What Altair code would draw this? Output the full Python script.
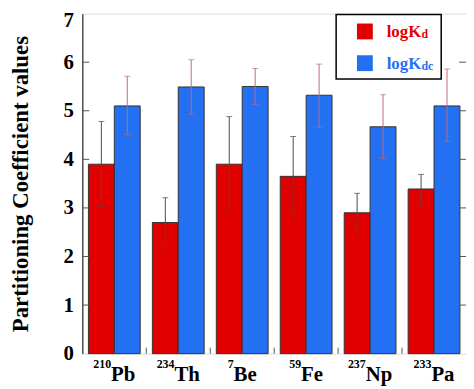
import altair as alt
import pandas as pd

mass = ["210", "234", "7", "59", "237", "233"]
elements = ["Pb", "Th", "Be", "Fe", "Np", "Pa"]
isotopes = [m + e for m, e in zip(mass, elements)]
series = ["logKd", "logKdc"]
kd = [3.90, 2.70, 3.90, 3.65, 2.90, 3.39]
kd_lo = [3.03, 2.18, 2.92, 2.84, 2.51, 3.06]
kd_hi = [4.78, 3.21, 4.88, 4.47, 3.30, 3.69]
kdc = [5.10, 5.49, 5.50, 5.32, 4.67, 5.10]
kdc_lo = [4.51, 4.93, 5.13, 4.66, 4.02, 4.37]
kdc_hi = [5.71, 6.05, 5.87, 5.96, 5.33, 5.86]
yticks = [0, 1, 2, 3, 4, 5, 6, 7]

rows = []
for i, iso in enumerate(isotopes):
    rows.append({"iso": iso, "series": series[0], "v": kd[i], "lo": kd_lo[i], "hi": kd_hi[i]})
    rows.append({"iso": iso, "series": series[1], "v": kdc[i], "lo": kdc_lo[i], "hi": kdc_hi[i]})
df = pd.DataFrame(rows)

W, H = 387, 343
FONT = "Liberation Serif"
EL_SIZE, SUP_SIZE = 21, 12
# approximate Times Bold advance widths (per em) for centring the composed label
ADV = {"P": 0.611, "b": 0.556, "T": 0.667, "h": 0.556, "B": 0.667, "e": 0.444,
       "F": 0.611, "N": 0.722, "p": 0.556, "a": 0.5}
lab = pd.DataFrame({
    "iso": isotopes, "mass": mass, "el": elements,
    "shift": [(len(m) * 0.5 * SUP_SIZE - sum(ADV[c] for c in e) * EL_SIZE) / 2
              for m, e in zip(mass, elements)],
})

PI = 0.19
step = W / (len(isotopes) - PI + 2 * PI / 2)
bw = step * (1 - PI)

xscale = alt.Scale(paddingInner=PI, paddingOuter=PI / 2)
xenc = alt.X("iso:N", sort=isotopes, scale=xscale, axis=None)
xoff = alt.XOffset("series:N", sort=series, scale=alt.Scale(paddingInner=0, paddingOuter=0))
yscale = alt.Scale(domain=[0, 7], nice=False)

base = alt.Chart(df)

bars = base.mark_bar(stroke="#333333", strokeWidth=1).encode(
    x=xenc,
    xOffset=xoff,
    y=alt.Y("v:Q", scale=yscale,
            axis=alt.Axis(values=yticks, title="Partitioning Coefficient values",
                          titleFont=FONT, titleFontSize=23, titleFontWeight="bold",
                          titleColor="black", titleAngle=-90, titleX=-62, titleY=H / 2,
                          titleAlign="center", titleBaseline="middle",
                          labelFont=FONT, labelFontSize=21, labelFontWeight="bold",
                          labelColor="black", labelPadding=9, ticks=False,
                          labelOffset={"condition": {"test": "datum.value == 7", "value": 7},
                                       "value": 0},
                          domainColor="black", grid=False)),
    fill=alt.Fill("series:N", scale=alt.Scale(domain=series, range=["#e00000", "#2470f2"]),
                  legend=None),
)

err_colors = alt.Scale(domain=series, range=["#4a4a4a", "#c06a78"])
errs = base.mark_rule(strokeWidth=1).encode(
    x=alt.X("iso:N", sort=isotopes),
    xOffset=xoff,
    y=alt.Y("lo:Q", scale=yscale),
    y2="hi:Q",
    stroke=alt.Stroke("series:N", scale=err_colors, legend=None),
)
cap_hi = base.mark_tick(size=6, thickness=1).encode(
    x=alt.X("iso:N", sort=isotopes),
    xOffset=xoff,
    y=alt.Y("hi:Q", scale=yscale),
    color=alt.Color("series:N", scale=err_colors, legend=None),
)
cap_lo = base.mark_tick(size=6, thickness=1).encode(
    x=alt.X("iso:N", sort=isotopes),
    xOffset=xoff,
    y=alt.Y("lo:Q", scale=yscale),
    color=alt.Color("series:N", scale=err_colors, legend=None),
)

shift_off = alt.XOffset("shift:Q", scale=alt.Scale(domain=[-bw / 2, bw / 2], range=[0, bw]))
lab_el = alt.Chart(lab).mark_text(font=FONT, fontWeight="bold", fontSize=EL_SIZE, color="black",
                                  align="left", baseline="alphabetic").encode(
    x=alt.X("iso:N", sort=isotopes), xOffset=shift_off, y=alt.value(H + 28), text="el:N")
lab_m = alt.Chart(lab).mark_text(font=FONT, fontWeight="bold", fontSize=SUP_SIZE, color="black",
                                 align="right", baseline="alphabetic").encode(
    x=alt.X("iso:N", sort=isotopes), xOffset=shift_off, y=alt.value(H + 14), text="mass:N")

# small inward ticks between category groups on the bottom edge
gap_off = alt.XOffset("g:Q", scale=alt.Scale(domain=[-bw / 2, bw / 2], range=[0, bw]))
gap_df = pd.DataFrame({"iso": isotopes[1:], "g": [-(bw + step * PI) / 2] * (len(isotopes) - 1)})
bticks = alt.Chart(gap_df).mark_rule(color="#555555", strokeWidth=1).encode(
    x=alt.X("iso:N", sort=isotopes), xOffset=gap_off, y=alt.value(H - 6), y2=alt.value(H))

tdf = pd.DataFrame({"t": yticks[1:-1]})
lticks = alt.Chart(tdf).mark_rule(color="#555555", strokeWidth=1).encode(
    y=alt.Y("t:Q", scale=yscale), x=alt.value(0), x2=alt.value(7))
rticks = alt.Chart(tdf).mark_rule(color="#555555", strokeWidth=1).encode(
    y=alt.Y("t:Q", scale=yscale), x=alt.value(W - 7), x2=alt.value(W))

one = pd.DataFrame({"a": [0]})
leg_box = alt.Chart(one).mark_rect(fill="white", stroke="black", strokeWidth=1.5).encode(
    x=alt.value(256), x2=alt.value(362), y=alt.value(1), y2=alt.value(66))
leg_red = alt.Chart(one).mark_rect(fill="#e00000").encode(
    x=alt.value(277), x2=alt.value(293), y=alt.value(10), y2=alt.value(26))
leg_blue = alt.Chart(one).mark_rect(fill="#2470f2").encode(
    x=alt.value(277), x2=alt.value(293), y=alt.value(42), y2=alt.value(58))

def txt(s, x, y, size, color):
    return alt.Chart(one).mark_text(text=s, font=FONT, fontWeight="bold", fontSize=size,
                                    color=color, align="left", baseline="alphabetic").encode(
        x=alt.value(x), y=alt.value(y))

leg_texts = [
    txt("logK", 307, 24, 17, "#e00000"),
    txt("d", 342, 25, 12, "#e00000"),
    txt("logK", 307, 56, 17, "#2470f2"),
    txt("dc", 342, 57, 12, "#2470f2"),
]

chart = alt.layer(bars, errs, cap_hi, cap_lo, lab_el, lab_m, bticks, lticks, rticks,
                  leg_box, leg_red, leg_blue, *leg_texts).resolve_scale(
    xOffset="independent"
).properties(
    width=W, height=H,
    autosize=alt.AutoSizeParams(type="none"),
    padding={"left": 75, "top": 4, "right": 0, "bottom": 34},
).configure_view(stroke="black", strokeWidth=1.5).configure(background="white")

chart.save("out.html", embed_options={"renderer": "svg", "actions": False})
